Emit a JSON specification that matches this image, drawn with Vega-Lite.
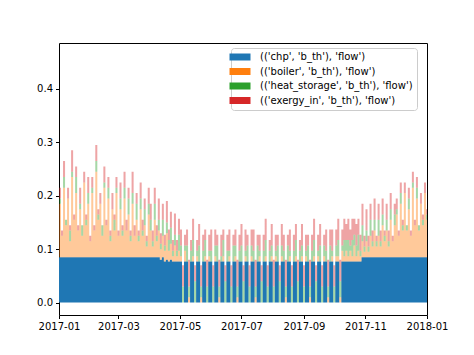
{
"$schema":"https://vega.github.io/schema/vega-lite/v6.json",
"width":368,"height":272,
"autosize":{"type":"none"},
"padding":{"left":59,"top":43,"right":47,"bottom":40},
"background":"white",
"config":{"view":{"stroke":"black","strokeWidth":1},"font":"DejaVu Sans",
 "axis":{"labelFont":"DejaVu Sans","labelFontSize":10,"labelColor":"black","tickColor":"black","tickSize":3.5,"domain":false,"grid":false,"title":null,"labelPadding":3}},
"data":{"values":[
{"t":"2017-01-01","a":0.085,"b":0.10,"c":0.01,"d":0.02},
{"t":"2017-01-03","a":0.085,"b":0.04,"c":0.0,"d":0.01},
{"t":"2017-01-05","a":0.085,"b":0.13,"c":0.02,"d":0.03},
{"t":"2017-01-07","a":0.085,"b":0.06,"c":0.01,"d":0.0},
{"t":"2017-01-09","a":0.085,"b":0.11,"c":0.0,"d":0.02},
{"t":"2017-01-11","a":0.085,"b":0.03,"c":0.02,"d":0.01},
{"t":"2017-01-13","a":0.085,"b":0.15,"c":0.01,"d":0.04},
{"t":"2017-01-15","a":0.085,"b":0.07,"c":0.0,"d":0.01},
{"t":"2017-01-17","a":0.085,"b":0.12,"c":0.03,"d":0.02},
{"t":"2017-01-19","a":0.085,"b":0.05,"c":0.0,"d":0.01},
{"t":"2017-01-21","a":0.085,"b":0.09,"c":0.01,"d":0.03},
{"t":"2017-01-23","a":0.085,"b":0.04,"c":0.02,"d":0.0},
{"t":"2017-01-25","a":0.085,"b":0.14,"c":0.0,"d":0.02},
{"t":"2017-01-27","a":0.085,"b":0.06,"c":0.01,"d":0.01},
{"t":"2017-01-29","a":0.085,"b":0.10,"c":0.02,"d":0.03},
{"t":"2017-01-31","a":0.085,"b":0.03,"c":0.0,"d":0.01},
{"t":"2017-02-02","a":0.085,"b":0.12,"c":0.01,"d":0.02},
{"t":"2017-02-04","a":0.085,"b":0.05,"c":0.0,"d":0.01},
{"t":"2017-02-06","a":0.085,"b":0.16,"c":0.02,"d":0.03},
{"t":"2017-02-08","a":0.085,"b":0.07,"c":0.01,"d":0.01},
{"t":"2017-02-10","a":0.085,"b":0.10,"c":0.0,"d":0.02},
{"t":"2017-02-12","a":0.085,"b":0.04,"c":0.02,"d":0.0},
{"t":"2017-02-14","a":0.085,"b":0.13,"c":0.01,"d":0.03},
{"t":"2017-02-16","a":0.085,"b":0.06,"c":0.0,"d":0.01},
{"t":"2017-02-18","a":0.085,"b":0.11,"c":0.02,"d":0.02},
{"t":"2017-02-20","a":0.085,"b":0.03,"c":0.01,"d":0.01},
{"t":"2017-02-22","a":0.085,"b":0.09,"c":0.0,"d":0.03},
{"t":"2017-02-24","a":0.085,"b":0.05,"c":0.02,"d":0.01},
{"t":"2017-02-26","a":0.085,"b":0.12,"c":0.01,"d":0.02},
{"t":"2017-02-28","a":0.085,"b":0.04,"c":0.0,"d":0.01},
{"t":"2017-03-02","a":0.085,"b":0.09,"c":0.02,"d":0.03},
{"t":"2017-03-04","a":0.085,"b":0.04,"c":0.01,"d":0.01},
{"t":"2017-03-06","a":0.085,"b":0.11,"c":0.02,"d":0.03},
{"t":"2017-03-08","a":0.085,"b":0.05,"c":0.0,"d":0.02},
{"t":"2017-03-10","a":0.085,"b":0.08,"c":0.03,"d":0.02},
{"t":"2017-03-12","a":0.085,"b":0.03,"c":0.01,"d":0.01},
{"t":"2017-03-14","a":0.085,"b":0.10,"c":0.02,"d":0.04},
{"t":"2017-03-16","a":0.085,"b":0.04,"c":0.0,"d":0.02},
{"t":"2017-03-18","a":0.085,"b":0.07,"c":0.03,"d":0.02},
{"t":"2017-03-20","a":0.085,"b":0.03,"c":0.01,"d":0.01},
{"t":"2017-03-22","a":0.085,"b":0.09,"c":0.02,"d":0.03},
{"t":"2017-03-24","a":0.085,"b":0.04,"c":0.01,"d":0.02},
{"t":"2017-03-26","a":0.085,"b":0.06,"c":0.03,"d":0.02},
{"t":"2017-03-28","a":0.085,"b":0.02,"c":0.01,"d":0.01},
{"t":"2017-03-30","a":0.085,"b":0.08,"c":0.02,"d":0.03},
{"t":"2017-04-01","a":0.085,"b":0.05,"c":0.02,"d":0.03},
{"t":"2017-04-03","a":0.085,"b":0.02,"c":0.01,"d":0.02},
{"t":"2017-04-05","a":0.085,"b":0.07,"c":0.03,"d":0.03},
{"t":"2017-04-07","a":0.085,"b":0.03,"c":0.01,"d":0.02},
{"t":"2017-04-09","a":0.085,"b":0.05,"c":0.02,"d":0.04},
{"t":"2017-04-11","a":0.080,"b":0.02,"c":0.01,"d":0.02},
{"t":"2017-04-13","a":0.085,"b":0.04,"c":0.03,"d":0.03},
{"t":"2017-04-15","a":0.077,"b":0.02,"c":0.01,"d":0.02},
{"t":"2017-04-17","a":0.080,"b":0.05,"c":0.02,"d":0.04},
{"t":"2017-04-19","a":0.077,"b":0.02,"c":0.02,"d":0.02},
{"t":"2017-04-21","a":0.080,"b":0.03,"c":0.03,"d":0.03},
{"t":"2017-04-23","a":0.077,"b":0.01,"c":0.01,"d":0.02},
{"t":"2017-04-25","a":0.077,"b":0.03,"c":0.02,"d":0.04},
{"t":"2017-04-27","a":0.077,"b":0.01,"c":0.01,"d":0.02},
{"t":"2017-04-29","a":0.077,"b":0.02,"c":0.03,"d":0.03},
{"t":"2017-05-01","a":0.077,"b":0.01,"c":0.02,"d":0.03},
{"t":"2017-05-03","a":0.0,"b":0.0,"c":0.03,"d":0.04},
{"t":"2017-05-05","a":0.077,"b":0.02,"c":0.01,"d":0.02},
{"t":"2017-05-07","a":0.077,"b":0.0,"c":0.03,"d":0.03},
{"t":"2017-05-09","a":0.0,"b":0.01,"c":0.02,"d":0.05},
{"t":"2017-05-11","a":0.077,"b":0.0,"c":0.02,"d":0.02},
{"t":"2017-05-13","a":0.077,"b":0.01,"c":0.03,"d":0.04},
{"t":"2017-05-15","a":0.0,"b":0.0,"c":0.04,"d":0.03},
{"t":"2017-05-17","a":0.077,"b":0.01,"c":0.01,"d":0.02},
{"t":"2017-05-19","a":0.077,"b":0.0,"c":0.03,"d":0.04},
{"t":"2017-05-21","a":0.0,"b":0.01,"c":0.02,"d":0.04},
{"t":"2017-05-23","a":0.077,"b":0.0,"c":0.02,"d":0.03},
{"t":"2017-05-25","a":0.077,"b":0.01,"c":0.03,"d":0.02},
{"t":"2017-05-27","a":0.0,"b":0.0,"c":0.03,"d":0.05},
{"t":"2017-05-29","a":0.077,"b":0.01,"c":0.01,"d":0.03},
{"t":"2017-05-31","a":0.077,"b":0.0,"c":0.02,"d":0.04},
{"t":"2017-06-02","a":0.0,"b":0.0,"c":0.03,"d":0.04},
{"t":"2017-06-04","a":0.077,"b":0.01,"c":0.02,"d":0.03},
{"t":"2017-06-06","a":0.077,"b":0.0,"c":0.03,"d":0.02},
{"t":"2017-06-08","a":0.0,"b":0.01,"c":0.02,"d":0.05},
{"t":"2017-06-10","a":0.077,"b":0.0,"c":0.01,"d":0.04},
{"t":"2017-06-12","a":0.077,"b":0.01,"c":0.03,"d":0.02},
{"t":"2017-06-14","a":0.0,"b":0.0,"c":0.04,"d":0.03},
{"t":"2017-06-16","a":0.077,"b":0.0,"c":0.02,"d":0.03},
{"t":"2017-06-18","a":0.077,"b":0.01,"c":0.01,"d":0.04},
{"t":"2017-06-20","a":0.0,"b":0.0,"c":0.03,"d":0.04},
{"t":"2017-06-22","a":0.077,"b":0.0,"c":0.03,"d":0.02},
{"t":"2017-06-24","a":0.077,"b":0.01,"c":0.02,"d":0.03},
{"t":"2017-06-26","a":0.0,"b":0.01,"c":0.02,"d":0.05},
{"t":"2017-06-28","a":0.077,"b":0.0,"c":0.02,"d":0.03},
{"t":"2017-06-30","a":0.077,"b":0.0,"c":0.03,"d":0.04},
{"t":"2017-07-02","a":0.0,"b":0.0,"c":0.04,"d":0.03},
{"t":"2017-07-04","a":0.077,"b":0.01,"c":0.01,"d":0.04},
{"t":"2017-07-06","a":0.077,"b":0.0,"c":0.03,"d":0.02},
{"t":"2017-07-08","a":0.0,"b":0.0,"c":0.03,"d":0.04},
{"t":"2017-07-10","a":0.077,"b":0.01,"c":0.02,"d":0.03},
{"t":"2017-07-12","a":0.077,"b":0.0,"c":0.02,"d":0.04},
{"t":"2017-07-14","a":0.0,"b":0.01,"c":0.02,"d":0.05},
{"t":"2017-07-16","a":0.077,"b":0.0,"c":0.03,"d":0.02},
{"t":"2017-07-18","a":0.077,"b":0.01,"c":0.01,"d":0.03},
{"t":"2017-07-20","a":0.0,"b":0.0,"c":0.04,"d":0.03},
{"t":"2017-07-22","a":0.077,"b":0.0,"c":0.02,"d":0.03},
{"t":"2017-07-24","a":0.077,"b":0.01,"c":0.03,"d":0.04},
{"t":"2017-07-26","a":0.0,"b":0.0,"c":0.03,"d":0.04},
{"t":"2017-07-28","a":0.077,"b":0.0,"c":0.02,"d":0.02},
{"t":"2017-07-30","a":0.077,"b":0.01,"c":0.02,"d":0.04},
{"t":"2017-08-01","a":0.0,"b":0.0,"c":0.03,"d":0.05},
{"t":"2017-08-03","a":0.077,"b":0.01,"c":0.01,"d":0.03},
{"t":"2017-08-05","a":0.077,"b":0.0,"c":0.03,"d":0.02},
{"t":"2017-08-07","a":0.0,"b":0.0,"c":0.04,"d":0.03},
{"t":"2017-08-09","a":0.077,"b":0.01,"c":0.02,"d":0.04},
{"t":"2017-08-11","a":0.077,"b":0.0,"c":0.02,"d":0.03},
{"t":"2017-08-13","a":0.0,"b":0.01,"c":0.02,"d":0.05},
{"t":"2017-08-15","a":0.077,"b":0.0,"c":0.03,"d":0.02},
{"t":"2017-08-17","a":0.077,"b":0.01,"c":0.01,"d":0.04},
{"t":"2017-08-19","a":0.0,"b":0.0,"c":0.03,"d":0.04},
{"t":"2017-08-21","a":0.077,"b":0.0,"c":0.02,"d":0.03},
{"t":"2017-08-23","a":0.077,"b":0.01,"c":0.03,"d":0.03},
{"t":"2017-08-25","a":0.0,"b":0.0,"c":0.04,"d":0.04},
{"t":"2017-08-27","a":0.077,"b":0.0,"c":0.02,"d":0.02},
{"t":"2017-08-29","a":0.077,"b":0.01,"c":0.02,"d":0.04},
{"t":"2017-08-31","a":0.0,"b":0.0,"c":0.03,"d":0.04},
{"t":"2017-09-02","a":0.077,"b":0.01,"c":0.01,"d":0.03},
{"t":"2017-09-04","a":0.077,"b":0.0,"c":0.03,"d":0.02},
{"t":"2017-09-06","a":0.0,"b":0.01,"c":0.02,"d":0.05},
{"t":"2017-09-08","a":0.077,"b":0.0,"c":0.02,"d":0.03},
{"t":"2017-09-10","a":0.077,"b":0.01,"c":0.03,"d":0.04},
{"t":"2017-09-12","a":0.0,"b":0.0,"c":0.04,"d":0.03},
{"t":"2017-09-14","a":0.077,"b":0.01,"c":0.01,"d":0.03},
{"t":"2017-09-16","a":0.077,"b":0.0,"c":0.03,"d":0.04},
{"t":"2017-09-18","a":0.0,"b":0.0,"c":0.03,"d":0.04},
{"t":"2017-09-20","a":0.077,"b":0.01,"c":0.02,"d":0.02},
{"t":"2017-09-22","a":0.077,"b":0.0,"c":0.02,"d":0.04},
{"t":"2017-09-24","a":0.0,"b":0.01,"c":0.02,"d":0.05},
{"t":"2017-09-26","a":0.077,"b":0.0,"c":0.03,"d":0.03},
{"t":"2017-09-28","a":0.077,"b":0.01,"c":0.01,"d":0.04},
{"t":"2017-09-30","a":0.0,"b":0.0,"c":0.03,"d":0.04},
{"t":"2017-10-02","a":0.077,"b":0.01,"c":0.02,"d":0.03},
{"t":"2017-10-04","a":0.077,"b":0.01,"c":0.03,"d":0.04},
{"t":"2017-10-06","a":0.0,"b":0.01,"c":0.03,"d":0.04},
{"t":"2017-10-08","a":0.077,"b":0.02,"c":0.01,"d":0.03},
{"t":"2017-10-10","a":0.077,"b":0.01,"c":0.03,"d":0.04},
{"t":"2017-10-12","a":0.077,"b":0.02,"c":0.02,"d":0.03},
{"t":"2017-10-14","a":0.077,"b":0.01,"c":0.03,"d":0.04},
{"t":"2017-10-16","a":0.077,"b":0.02,"c":0.01,"d":0.03},
{"t":"2017-10-18","a":0.077,"b":0.01,"c":0.03,"d":0.04},
{"t":"2017-10-20","a":0.077,"b":0.03,"c":0.02,"d":0.03},
{"t":"2017-10-22","a":0.077,"b":0.01,"c":0.02,"d":0.04},
{"t":"2017-10-24","a":0.077,"b":0.02,"c":0.03,"d":0.03},
{"t":"2017-10-26","a":0.077,"b":0.01,"c":0.01,"d":0.03},
{"t":"2017-10-28","a":0.085,"b":0.03,"c":0.03,"d":0.04},
{"t":"2017-10-30","a":0.085,"b":0.01,"c":0.01,"d":0.02},
{"t":"2017-11-01","a":0.085,"b":0.03,"c":0.02,"d":0.04},
{"t":"2017-11-03","a":0.085,"b":0.01,"c":0.01,"d":0.02},
{"t":"2017-11-05","a":0.085,"b":0.04,"c":0.03,"d":0.03},
{"t":"2017-11-07","a":0.085,"b":0.02,"c":0.01,"d":0.02},
{"t":"2017-11-09","a":0.085,"b":0.05,"c":0.02,"d":0.04},
{"t":"2017-11-11","a":0.085,"b":0.02,"c":0.01,"d":0.01},
{"t":"2017-11-13","a":0.085,"b":0.04,"c":0.03,"d":0.03},
{"t":"2017-11-15","a":0.085,"b":0.02,"c":0.01,"d":0.02},
{"t":"2017-11-17","a":0.085,"b":0.06,"c":0.02,"d":0.03},
{"t":"2017-11-19","a":0.085,"b":0.03,"c":0.01,"d":0.01},
{"t":"2017-11-21","a":0.085,"b":0.05,"c":0.02,"d":0.03},
{"t":"2017-11-23","a":0.085,"b":0.02,"c":0.01,"d":0.02},
{"t":"2017-11-25","a":0.085,"b":0.07,"c":0.02,"d":0.03},
{"t":"2017-11-27","a":0.085,"b":0.03,"c":0.0,"d":0.01},
{"t":"2017-11-29","a":0.085,"b":0.06,"c":0.02,"d":0.02},
{"t":"2017-12-01","a":0.085,"b":0.08,"c":0.01,"d":0.02},
{"t":"2017-12-03","a":0.085,"b":0.04,"c":0.0,"d":0.01},
{"t":"2017-12-05","a":0.085,"b":0.10,"c":0.02,"d":0.02},
{"t":"2017-12-07","a":0.085,"b":0.05,"c":0.01,"d":0.01},
{"t":"2017-12-09","a":0.085,"b":0.12,"c":0.0,"d":0.02},
{"t":"2017-12-11","a":0.085,"b":0.05,"c":0.01,"d":0.0},
{"t":"2017-12-13","a":0.085,"b":0.09,"c":0.02,"d":0.02},
{"t":"2017-12-15","a":0.085,"b":0.04,"c":0.0,"d":0.01},
{"t":"2017-12-17","a":0.085,"b":0.13,"c":0.01,"d":0.02},
{"t":"2017-12-19","a":0.085,"b":0.06,"c":0.0,"d":0.01},
{"t":"2017-12-21","a":0.085,"b":0.11,"c":0.02,"d":0.02},
{"t":"2017-12-23","a":0.085,"b":0.05,"c":0.01,"d":0.0},
{"t":"2017-12-25","a":0.085,"b":0.10,"c":0.0,"d":0.02},
{"t":"2017-12-27","a":0.085,"b":0.06,"c":0.01,"d":0.01},
{"t":"2017-12-29","a":0.085,"b":0.12,"c":0.0,"d":0.02},
{"t":"2017-12-31","a":0.085,"b":0.07,"c":0.01,"d":0.01},
{"t":"2018-01-01","a":0.085,"b":0.07,"c":0.01,"d":0.01}
]},
"transform":[{"fold":["a","b","c","d"],"as":["k","v"]}],
"mark":{"type":"area","interpolate":"step-after","clip":true},
"encoding":{
 "x":{"field":"t","type":"temporal","scale":{"type":"utc","domain":[{"year":2017,"month":1,"date":1,"utc":true},{"year":2018,"month":1,"date":1,"utc":true}],"nice":false},
  "axis":{"format":"%Y-%m","tickCount":{"interval":"month","step":2},"labelFlush":false}},
 "y":{"field":"v","type":"quantitative","stack":"zero","scale":{"domain":[-0.0232,0.486],"nice":false,"zero":false},
  "axis":{"values":[0,0.1,0.2,0.3,0.4],"format":".1f"}},
 "order":{"field":"k","sort":"ascending"},
 "color":{"field":"k","type":"nominal","scale":{"domain":["a","b","c","d"],"range":["#1f77b4","#ff7f0e","#2ca02c","#d62728"]},
  "legend":{"title":null,"orient":"none","legendX":172,"legendY":5,"fillColor":"white","strokeColor":"#cccccc","cornerRadius":3,"padding":4,
   "symbolType":"M-3,-1H3V1H-3Z","symbolSize":49,"symbolStrokeWidth":0,"symbolOpacity":1,"labelFont":"DejaVu Sans","labelFontSize":10,"labelColor":"black","labelOffset":15,"rowPadding":4.5,
   "labelExpr":"{\"a\":\"(('chp', 'b_th'), 'flow')\",\"b\":\"(('boiler', 'b_th'), 'flow')\",\"c\":\"(('heat_storage', 'b_th'), 'flow')\",\"d\":\"(('exergy_in', 'b_th'), 'flow')\"}[datum.label]"}},
 "opacity":{"condition":{"test":"datum.k === 'a'","value":1},"value":0.42}
}
}
